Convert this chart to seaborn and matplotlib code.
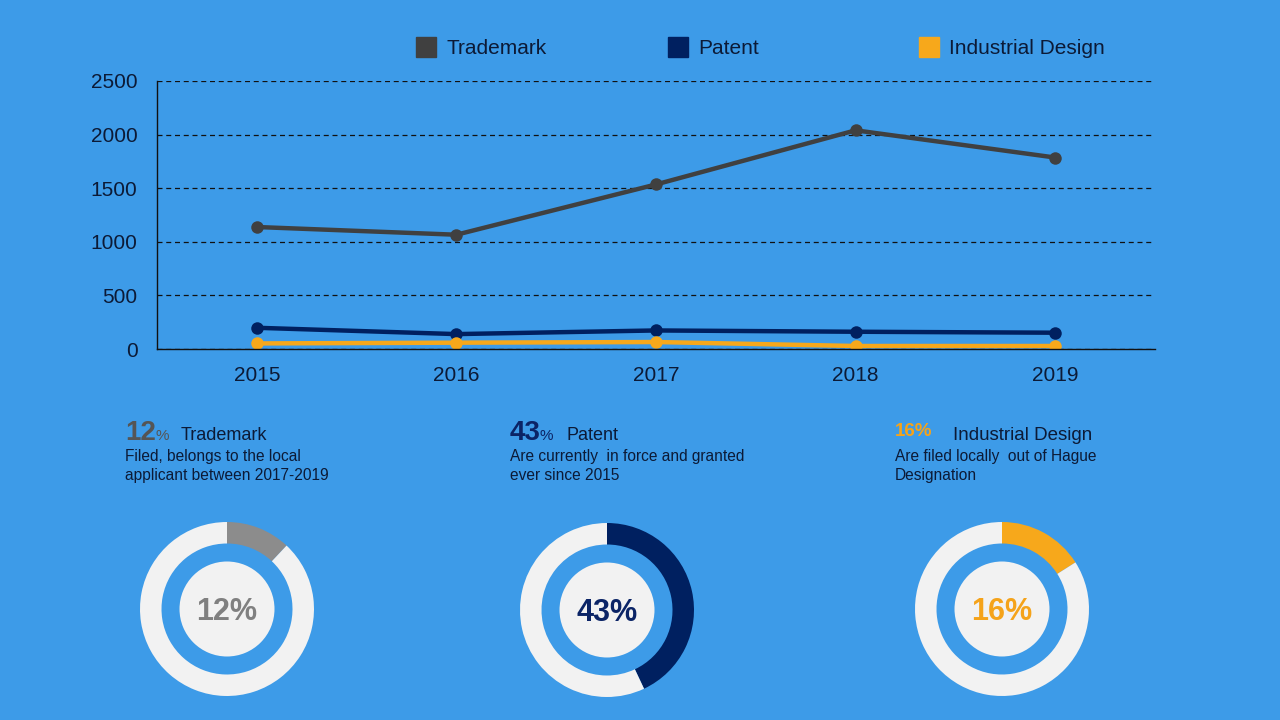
import numpy as np
import pandas as pd
import matplotlib
matplotlib.use('Agg')
import matplotlib.pyplot as plt
import seaborn as sns
from matplotlib.lines import Line2D
from matplotlib.ticker import FixedLocator

# data
years = ['2015', '2016', '2017', '2018', '2019']
trademark = [1138, 1066, 1535, 2040, 1786]
patent = [198, 139, 173, 161, 152]
industrial = [52, 59, 65, 28, 28]
series_names = ['Trademark', 'Patent', 'Industrial Design']

share_values = [12, 43, 16]
share_titles = ['Trademark', 'Patent', 'Industrial Design']
share_texts = [['Filed, belongs to the local', 'applicant between 2017-2019'],
               ['Are currently  in force and granted', 'ever since 2015'],
               ['Are filed locally  out of Hague', 'Designation']]

BG = '#3D9BE8'
TXT = '#0C1A36'
RING = '#F2F2F2'
colors = {'Trademark': '#404040', 'Patent': '#002060', 'Industrial Design': '#F7A81B'}
share_colors = ['#8C8C8C', '#002060', '#F7A81B']
share_text_colors = ['#808080', '#0B2466', '#F5A31A']
head_colors = ['#555555', '#0B2466', '#F5A31A']

sns.set_style('white')
plt.rcParams['font.family'] = ['Liberation Sans', 'DejaVu Sans']

W, H = 1280, 720
fig = plt.figure(figsize=(12.8, 7.2), dpi=100, facecolor=BG)


def fx(x):
    return x / W


def fy(y):
    return 1 - y / H


# line chart
df = pd.DataFrame({
    'Year': years * 3,
    'Count': trademark + patent + industrial,
    'Type': [n for n in series_names for _ in years],
})

ax = fig.add_axes([fx(157), fy(349), 998 / W, 268 / H])
ax.set_facecolor(BG)
sns.lineplot(data=df, x='Year', y='Count', hue='Type', palette=colors,
             marker='o', markersize=9, markeredgewidth=0, linewidth=3.2,
             sort=False, legend=False, ax=ax)
ax.set_xlim(-0.5, 4.5)
ax.set_ylim(0, 2500)
ax.set_yticks([0, 500, 1000, 1500, 2000, 2500])
ax.set_xlabel('')
ax.set_ylabel('')
ax.grid(False)
ax.yaxis.grid(True, linestyle=(0, (4, 3)), color='#111111', linewidth=0.9)
for s in ['top', 'right']:
    ax.spines[s].set_visible(False)
for s in ['left', 'bottom']:
    ax.spines[s].set_color('#111111')
    ax.spines[s].set_linewidth(1)
ax.xaxis.set_minor_locator(FixedLocator(np.arange(-0.5, 5, 1)))
ax.tick_params(axis='x', which='major', length=0, pad=12, labelsize=15, labelcolor=TXT)
ax.tick_params(axis='x', which='minor', length=6, direction='out', color='#111111')
ax.tick_params(axis='y', length=6, direction='out', color='#111111', pad=8,
               labelsize=15, labelcolor=TXT)

# legend, one entry per box as in the reference
legend_x = [418, 670, 921]
for name, lx in zip(series_names, legend_x):
    h = Line2D([], [], marker='s', ls='', markersize=15, color=colors[name])
    fig.legend(handles=[h], labels=[name], loc='center left',
               bbox_to_anchor=(fx(lx - 2), fy(49)), frameon=False,
               handlelength=1.0, handletextpad=0.45, borderpad=0,
               borderaxespad=0, fontsize=15, labelcolor=TXT)

# headings and descriptions
head_x = [125, 510, 895]
pct_dx = [31, 30]
for i in range(3):
    x0 = head_x[i]
    if i < 2:
        fig.text(fx(x0), fy(440), str(share_values[i]), fontsize=20, weight='bold',
                 color=head_colors[i], va='baseline', ha='left')
        fig.text(fx(x0 + pct_dx[i]), fy(440), '%', fontsize=11,
                 color=head_colors[i], va='baseline', ha='left')
        fig.text(fx(x0 + 56), fy(440), share_titles[i], fontsize=13,
                 color=TXT, va='baseline', ha='left')
    else:
        fig.text(fx(x0), fy(436), f'{share_values[i]}%', fontsize=13.5, weight='bold',
                 color=head_colors[i], va='baseline', ha='left')
        fig.text(fx(x0 + 58), fy(440), share_titles[i], fontsize=13.5,
                 color=TXT, va='baseline', ha='left')
    for k, line in enumerate(share_texts[i]):
        fig.text(fx(x0), fy(461 + 19 * k), line, fontsize=11.2, color=TXT,
                 va='baseline', ha='left')

# donuts
centers = [(227, 609), (607, 610), (1002, 609)]
for i, (cx, cy) in enumerate(centers):
    right = 90 if i < 2 else 86
    dax = fig.add_axes([fx(cx - 90), fy(cy + 90), (90 + right) / W, 180 / H])
    dax.pie([share_values[i], 100 - share_values[i]],
            colors=[share_colors[i], RING], startangle=90, counterclock=False,
            radius=87 / 90, wedgeprops=dict(width=21.5 / 90, edgecolor='none'))
    dax.pie([1], colors=[RING], radius=47.5 / 90, wedgeprops=dict(edgecolor='none'))
    dax.set_aspect('auto')
    dax.set_xlim(-1, right / 90)
    dax.set_ylim(-1, 1)
    dax.axis('off')
    dax.text(0, -0.03, f'{share_values[i]}%', ha='center', va='center', fontsize=22,
             weight='bold', color=share_text_colors[i])

fig.savefig('out.png', dpi=100, facecolor=BG)
